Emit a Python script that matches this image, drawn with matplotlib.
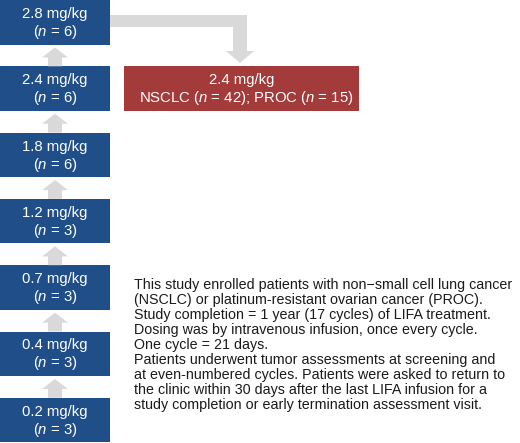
import matplotlib
matplotlib.use('Agg')
import matplotlib.pyplot as plt
from matplotlib.patches import Rectangle, Polygon

plt.rcParams['font.family'] = ['Liberation Sans', 'DejaVu Sans']
plt.rcParams['mathtext.fontset'] = 'custom'
plt.rcParams['mathtext.rm'] = 'Liberation Sans'
plt.rcParams['mathtext.it'] = 'Liberation Sans:italic'

# dose escalation levels, top to bottom
doses = ['2.8', '2.4', '1.8', '1.2', '0.7', '0.4', '0.2']
n_pts = [6, 6, 6, 3, 3, 3, 3]

# expansion cohort
exp_dose = '2.4'
exp_nsclc = 42
exp_proc = 15

notes = [
    'This study enrolled patients with non\u2212small cell lung cancer',
    '(NSCLC) or platinum-resistant ovarian cancer (PROC).',
    'Study completion = 1 year (17 cycles) of LIFA treatment.',
    'Dosing was by intravenous infusion, once every cycle.',
    'One cycle = 21 days.',
    'Patients underwent tumor assessments at screening and',
    'at even-numbered cycles. Patients were asked to return to',
    'the clinic within 30 days after the last LIFA infusion for a',
    'study completion or early termination assessment visit.',
]

blue = '#1F4E89'
red = '#A23B3A'
grey = '#D9D9D9'

fig = plt.figure(figsize=(5.2, 4.43), dpi=100)
ax = fig.add_axes([0, 0, 1, 1])
ax.set_xlim(0, 520)
ax.set_ylim(443, 0)
ax.axis('off')

pitch = 66.3
bw, bh = 110, 44.5
fs = 10.7

for i, (d, n) in enumerate(zip(doses, n_pts)):
    top = i * pitch
    ax.add_patch(Rectangle((0, top), bw, bh, facecolor=blue, edgecolor='none'))
    ax.text(bw / 2, top + 14, d + ' mg/kg', color='white', fontsize=fs,
            ha='center', va='center')
    ax.text(bw / 2, top + 32, '($n$ = %d)' % n, color='white', fontsize=fs,
            ha='center', va='center')
    # little up arrow above every box except the top one
    if i > 0:
        tip = top - pitch + bh + 3
        ax.add_patch(Polygon([(48, top), (48, tip + 10), (42, tip + 10), (55, tip),
                              (68, tip + 10), (62, tip + 10), (62, top)],
                             closed=True, facecolor=grey, edgecolor='none'))

# big arrow from top dose to expansion box
ax.add_patch(Polygon([(110, 15), (247, 15), (247, 51), (254, 51), (240, 63),
                      (226, 51), (233, 51), (233, 27), (110, 27)],
                     closed=True, facecolor=grey, edgecolor='none'))

rx, ry, rw = 124, pitch, 235
ax.add_patch(Rectangle((rx, ry), rw, bh, facecolor=red, edgecolor='none'))
ax.text(rx + rw / 2, ry + 14, exp_dose + ' mg/kg', color='white', fontsize=fs,
        ha='center', va='center')
ax.text(rx + rw / 2 + 5, ry + 32,
        'NSCLC ($n$ = %d); PROC ($n$ = %d)' % (exp_nsclc, exp_proc),
        color='white', fontsize=fs, ha='center', va='center')

for k, line in enumerate(notes):
    ax.text(134.5, 285 + 15 * k, line, fontsize=10.3, ha='left', va='center',
            color='#1a1a1a')

fig.savefig('out.png', dpi=100)
